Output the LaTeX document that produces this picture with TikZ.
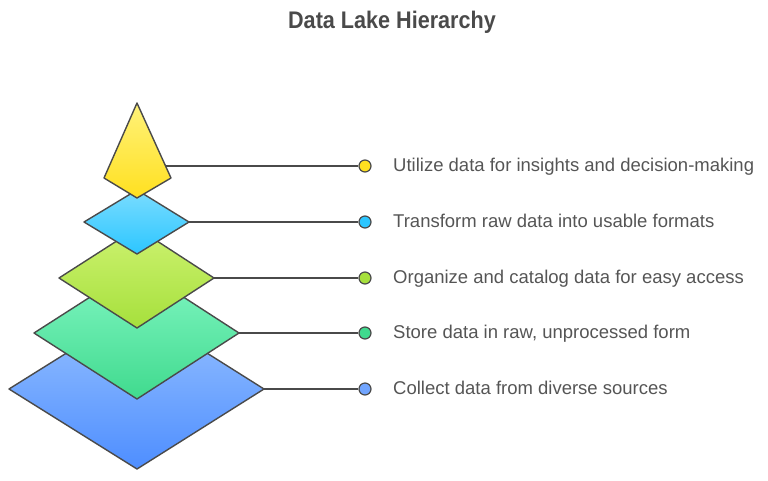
\documentclass[tikz,border=0pt]{standalone}
\usepackage{fontspec}
\setmainfont{Liberation Sans}
\newfontfamily\titfont[FakeStretch=0.9]{Liberation Sans}
\definecolor{edgegray}{HTML}{4A4A4A}
\definecolor{txtgray}{HTML}{555555}
\definecolor{ytop}{HTML}{FFF27A}\definecolor{ybot}{HTML}{FFE020}
\definecolor{btop}{HTML}{7ADCFF}\definecolor{bbot}{HTML}{2CC6FF}
\definecolor{gytop}{HTML}{CDF270}\definecolor{gybot}{HTML}{A6E03C}
\definecolor{gtop}{HTML}{82F7C4}\definecolor{gbot}{HTML}{40DA8E}
\definecolor{dtop}{HTML}{98C2FF}\definecolor{dbot}{HTML}{4E8EFF}
\tikzset{
  layer/.style={draw=edgegray, line width=1.4pt, line join=round, top color=#1top, bottom color=#1bot},
  link/.style={draw=edgegray, line width=1.2pt},
  dot/.style={circle, draw=edgegray, line width=1.2pt, fill=#1, minimum size=12pt, inner sep=0pt},
  lab/.style={anchor=base west, text=txtgray, font=\fontsize{18.5}{22}\selectfont, inner sep=0pt},
}
\begin{document}
\begin{tikzpicture}[x=1pt,y=-1pt]
\useasboundingbox (0,0) rectangle (768,480);
\node[font=\titfont\bfseries\fontsize{24}{28}\selectfont, text=edgegray, anchor=base, inner sep=0pt] (title) at (392,28) {Data Lake Hierarchy};
% layers, bottom first
\coordinate (dR) at (264,389);
\path[layer=d] (137,309) -- (dR) -- (137,469) -- (9,389) -- cycle;
\coordinate (gR) at (239,333);
\path[layer=g] (137,267) -- (gR) -- (137,399) -- (34,333) -- cycle;
\coordinate (gyR) at (214,278);
\path[layer=gy] (137,228) -- (gyR) -- (137,328) -- (59,278) -- cycle;
\coordinate (bR) at (189,222);
\path[layer=b] (137,190) -- (bR) -- (137,254) -- (84,222) -- cycle;
\path[layer=y] (137,103) -- (171,178) -- (137,198) -- (104,178) -- cycle;
\coordinate (yR) at (165.6,166);
% dots
\node[dot=ybot] (c1) at (365,166) {};
\node[dot=bbot] (c2) at (365,222) {};
\node[dot=gybot] (c3) at (365,278) {};
\node[dot=gbot] (c4) at (365,333) {};
\node[dot=dbot!80!white] (c5) at (365,389) {};
\draw[link] (yR) -- (c1);
\draw[link] (bR) -- (c2);
\draw[link] (gyR) -- (c3);
\draw[link] (gR) -- (c4);
\draw[link] (dR) -- (c5);
\node[lab] (t1) at (393,171) {Utilize data for insights and decision-making};
\node[lab] (t2) at (393,227) {Transform raw data into usable formats};
\node[lab] (t3) at (393,283) {Organize and catalog data for easy access};
\node[lab] (t4) at (393,338) {Store data in raw, unprocessed form};
\node[lab] (t5) at (393,394) {Collect data from diverse sources};
\end{tikzpicture}
\end{document}
